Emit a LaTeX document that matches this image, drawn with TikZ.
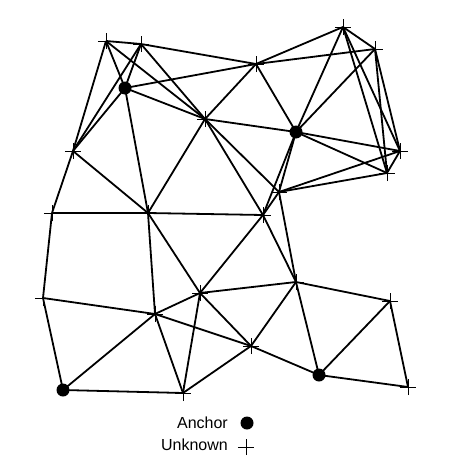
\documentclass[tikz,border=0pt]{standalone}
\usepackage{fontspec}
\setmainfont{Liberation Sans}
\usetikzlibrary{shapes.misc}

\begin{document}
\begin{tikzpicture}[x=1pt,y=-1pt,
  known/.style = {circle, fill=black, minimum size=13pt, inner sep=0pt},
  unknown/.style = {cross out, draw, rotate=45, line width=0.9pt, minimum size=10.5pt, inner sep=0pt},
  edge/.style = {line width=1.8pt}]
\useasboundingbox (0,0) rectangle (460,460);
\node[unknown] (1) at (106,41) {};
\node[unknown] (2) at (141,44) {};
\node[known] (3) at (125,88) {};
\node[unknown] (4) at (205,119) {};
\node[unknown] (5) at (73,151) {};
\node[unknown] (6) at (148,213) {};
\node[unknown] (7) at (52,213) {};
\node[unknown] (8) at (256,64) {};
\node[unknown] (9) at (343,27) {};
\node[unknown] (10) at (375,49) {};
\node[known] (11) at (296,132) {};
\node[unknown] (12) at (400,151) {};
\node[unknown] (13) at (387,173) {};
\node[unknown] (14) at (279,192) {};
\node[unknown] (15) at (263,215) {};
\node[unknown] (16) at (43,298) {};
\node[unknown] (17) at (200,293) {};
\node[unknown] (18) at (155,314) {};
\node[known] (19) at (63,390) {};
\node[unknown] (20) at (183,393) {};
\node[unknown] (21) at (296,282) {};
\node[unknown] (22) at (251,346) {};
\node[known] (23) at (319,375) {};
\node[unknown] (24) at (390,301) {};
\node[unknown] (25) at (408,387) {};
\draw[edge] (1.center) -- (2.center);
\draw[edge] (2.center) -- (8.center);
\draw[edge] (1.center) -- (3.center);
\draw[edge] (1.center) -- (4.center);
\draw[edge] (1.center) -- (5.center);
\draw[edge] (2.center) -- (3.center);
\draw[edge] (2.center) -- (4.center);
\draw[edge] (2.center) -- (5.center);
\draw[edge] (3.center) -- (5.center);
\draw[edge] (3.center) -- (6.center);
\draw[edge] (3.center) -- (4.center);
\draw[edge] (3.center) -- (8.center);
\draw[edge] (5.center) -- (6.center);
\draw[edge] (5.center) -- (7.center);
\draw[edge] (4.center) -- (6.center);
\draw[edge] (4.center) -- (8.center);
\draw[edge] (4.center) -- (11.center);
\draw[edge] (4.center) -- (14.center);
\draw[edge] (4.center) -- (15.center);
\draw[edge] (8.center) -- (11.center);
\draw[edge] (8.center) -- (9.center);
\draw[edge] (8.center) -- (10.center);
\draw[edge] (11.center) -- (9.center);
\draw[edge] (11.center) -- (10.center);
\draw[edge] (11.center) -- (12.center);
\draw[edge] (11.center) -- (13.center);
\draw[edge] (11.center) -- (14.center);
\draw[edge] (11.center) -- (15.center);
\draw[edge] (9.center) -- (10.center);
\draw[edge] (9.center) -- (12.center);
\draw[edge] (9.center) -- (13.center);
\draw[edge] (10.center) -- (12.center);
\draw[edge] (10.center) -- (13.center);
\draw[edge] (12.center) -- (13.center);
\draw[edge] (14.center) -- (12.center);
\draw[edge] (14.center) -- (13.center);
\draw[edge] (14.center) -- (15.center);
\draw[edge] (14.center) -- (21.center);
\draw[edge] (7.center) -- (6.center);
\draw[edge] (6.center) -- (15.center);
\draw[edge] (7.center) -- (16.center);
\draw[edge] (6.center) -- (18.center);
\draw[edge] (6.center) -- (17.center);
\draw[edge] (17.center) -- (15.center);
\draw[edge] (17.center) -- (21.center);
\draw[edge] (17.center) -- (18.center);
\draw[edge] (17.center) -- (20.center);
\draw[edge] (17.center) -- (22.center);
\draw[edge] (16.center) -- (18.center);
\draw[edge] (16.center) -- (19.center);
\draw[edge] (19.center) -- (18.center);
\draw[edge] (19.center) -- (20.center);
\draw[edge] (18.center) -- (20.center);
\draw[edge] (18.center) -- (22.center);
\draw[edge] (20.center) -- (22.center);
\draw[edge] (15.center) -- (21.center);
\draw[edge] (21.center) -- (24.center);
\draw[edge] (21.center) -- (22.center);
\draw[edge] (21.center) -- (23.center);
\draw[edge] (22.center) -- (23.center);
\draw[edge] (23.center) -- (24.center);
\draw[edge] (23.center) -- (25.center);
\draw[edge] (24.center) -- (25.center);
\node[anchor=east, inner sep=0pt, font=\fontsize{16}{18}\selectfont] (anchortext) at (228,422.5) {Anchor};
\node[known] (anchorkey) at (247,423) {};
\node[anchor=east, inner sep=0pt, font=\fontsize{16}{18}\selectfont] (unknowntext) at (228,444.5) {Unknown};
\node[unknown] (unknownkey) at (246,447) {};
\end{tikzpicture}
\end{document}
